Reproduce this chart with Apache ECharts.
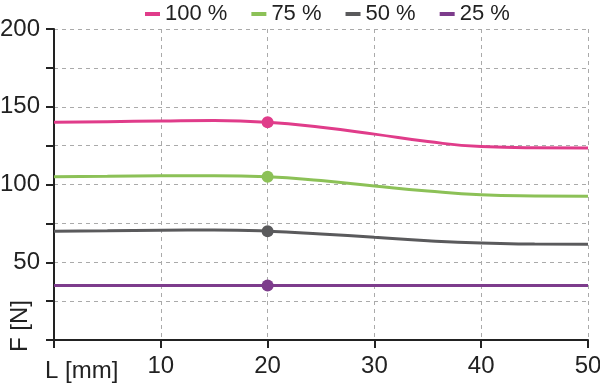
<!DOCTYPE html>
<html><head><meta charset="utf-8">
<script src="https://cdn.jsdelivr.net/npm/echarts@6/dist/echarts.min.js"></script>
<style>html,body{margin:0;padding:0;background:#fff}#c{width:600px;height:386px}</style>
</head><body><div id="c"></div>
<script>
const xValues = [0, 5, 10, 15, 20, 25, 30, 35, 40, 45, 50];
const s100 = [140, 140.4, 140.8, 141.1, 140, 136.8, 132.4, 127.6, 124.4, 123.6, 123.5];
const s75  = [105, 105.3, 105.6, 105.7, 105, 102.5, 99.0, 95.8, 93.4, 92.6, 92.4];
const s50  = [70, 70.3, 70.6, 70.7, 70, 68.2, 66.0, 63.8, 62.3, 61.7, 61.5];
const s25  = [35, 35, 35, 35, 35, 35, 35, 35, 35, 35, 35];
const seriesNames = ['100 %', '75 %', '50 %', '25 %'];
const colors = ['#e03c8a', '#8cc157', '#5a5a5c', '#7d3c8c'];
const markerX = 20;
const xTitle = 'L [mm]';
const yTitle = 'F [N]';
const FONT = 'Liberation Sans';

function mk(vals) {
  return xValues.map((x, i) => ({
    value: [x, vals[i]],
    symbol: x === markerX ? 'circle' : 'none',
    symbolSize: x === markerX ? 12 : 0
  }));
}
const all = [s100, s75, s50, s25];
const chart = echarts.init(document.getElementById('c'));
chart.setOption({
  animation: false,
  color: colors,
  textStyle: { fontFamily: FONT },
  legend: {
    left: 140, top: -2, itemWidth: 15, itemHeight: 4, itemGap: 24,
    icon: 'rect',
    textStyle: { fontSize: 22, color: '#222', fontFamily: FONT },
    data: seriesNames
  },
  grid: { left: 54, right: 12, top: 29, bottom: 46, containLabel: false, outerBoundsMode: 'none' },
  xAxis: {
    type: 'value', min: 0, max: 50, interval: 10,
    axisLine: { lineStyle: { color: '#222', width: 2 } },
    axisTick: { length: 8, lineStyle: { color: '#222', width: 2 } },
    axisLabel: { fontSize: 24, color: '#222', margin: 14, fontFamily: FONT,
      formatter: v => v === 0 ? '' : String(v) },
    splitLine: { show: true, lineStyle: { type: [4, 4], color: '#aaa', width: 1 } }
  },
  yAxis: {
    type: 'value', min: 0, max: 200, interval: 25,
    axisLine: { show: true, lineStyle: { color: '#222', width: 2 } },
    axisTick: { show: true, length: 8, lineStyle: { color: '#222', width: 2 } },
    axisLabel: { fontSize: 24, color: '#222', margin: 14, fontFamily: FONT,
      formatter: v => (v > 0 && v % 50 === 0) ? String(v) : '' },
    splitLine: { show: true, lineStyle: { type: [4, 4], color: '#aaa', width: 1 } }
  },
  graphic: [
    { type: 'text', left: 45, top: 359, style: { text: xTitle, fontSize: 24, fill: '#222', fontFamily: FONT } },
    { type: 'text', rotation: Math.PI / 2, x: 8, y: 352, style: { text: yTitle, fontSize: 24, fill: '#222', fontFamily: FONT } }
  ],
  series: all.map((vals, i) => ({
    name: seriesNames[i], type: 'line', smooth: 0.5,
    data: mk(vals),
    lineStyle: { width: 3, color: colors[i] },
    itemStyle: { color: colors[i] },
    z: 10 - i
  }))
});
</script></body></html>
